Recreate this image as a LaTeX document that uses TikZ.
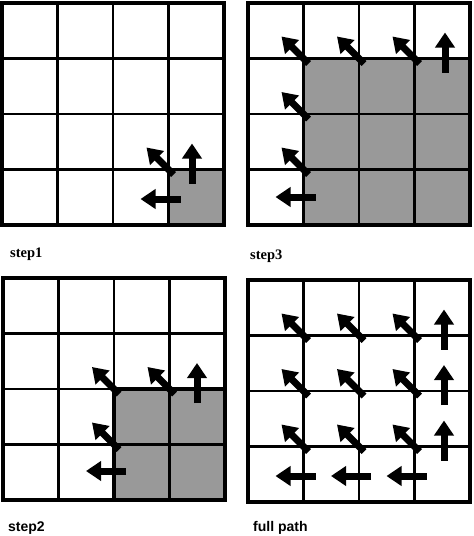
\documentclass[tikz,border=0pt]{standalone}
\usepackage{fontspec}
\setmainfont{Liberation Serif}
\newfontfamily\labsans{Liberation Sans}
\usetikzlibrary{arrows.meta}
\tikzset{
  cellgrid/.style={line width=2.4pt},
  outerframe/.style={line width=3.2pt},
  shadecell/.style={fill=black!40},
  regionedge/.style={line width=3.6pt},
  bigarrow/.style={line width=7pt,-{Triangle[length=15pt,width=19pt]}},
  seriflabel/.style={anchor=base west,inner sep=0pt,font=\bfseries\fontsize{14.5}{15}\selectfont},
  sanslabel/.style={anchor=base west,inner sep=0pt,font=\labsans\bfseries\fontsize{14}{15}\selectfont},
}
\newcommand\gridlines{%
  \foreach \k in {1,2,3}{%
    \draw[cellgrid] ({\k*55.5},0) -- ({\k*55.5},222);
    \draw[cellgrid] (0,{\k*55.5}) -- (222,{\k*55.5});
  }%
  \draw[outerframe] (0,0) rectangle (222,222);%
}
\newcommand\uparr[2]{\draw[bigarrow] ({#1},{#2+14}) -- ({#1},{#2-26});}
\newcommand\leftarr[2]{\draw[bigarrow] ({#1+12},{#2}) -- ({#1-28},{#2});}
\newcommand\diagarr[2]{\draw[bigarrow] ({#1+5},{#2+5}) -- ({#1-22},{#2-22});}
\begin{document}
\begin{tikzpicture}[x=1pt,y=-1pt]
\useasboundingbox (0,0) rectangle (474,536);
% step1
\begin{scope}[shift={(2,3)}]
  \fill[shadecell] (166.5,166.5) rectangle (222,222);
  \gridlines
  \draw[regionedge] (166.5,166.5) rectangle (222,222);
  \diagarr{166.5}{166.5}
  \uparr{190}{166.5}
  \leftarr{166.5}{196}
\end{scope}
% step3
\begin{scope}[shift={(248,3)}]
  \fill[shadecell] (55.5,55.5) rectangle (222,222);
  \gridlines
  \draw[regionedge] (55.5,222) -- (55.5,55.5) -- (222,55.5);
  \diagarr{55.5}{55.5}
  \diagarr{111}{55.5}
  \diagarr{166.5}{55.5}
  \diagarr{55.5}{111}
  \diagarr{55.5}{166.5}
  \uparr{197}{55.5}
  \leftarr{55.5}{194}
\end{scope}
% step2
\begin{scope}[shift={(3,278)}]
  \fill[shadecell] (111,111) rectangle (222,222);
  \gridlines
  \draw[regionedge] (111,222) -- (111,111) -- (222,111);
  \diagarr{111}{111}
  \diagarr{166.5}{111}
  \diagarr{111}{166.5}
  \uparr{194}{111}
  \leftarr{111}{193}
\end{scope}
% full path
\begin{scope}[shift={(248,280)}]
  \gridlines
  \foreach \a in {55.5,111,166.5}{
    \foreach \b in {55.5,111,166.5}{
      \diagarr{\a}{\b}
    }
    \uparr{196}{\a}
    \leftarr{\a}{196}
  }
\end{scope}
\node[seriflabel] (l1) at (10,257) {step1};
\node[seriflabel] (l3) at (250,259) {step3};
\node[sanslabel] (l2) at (8,531) {step2};
\node[sanslabel] (l4) at (253,531) {full path};
\end{tikzpicture}
\end{document}
